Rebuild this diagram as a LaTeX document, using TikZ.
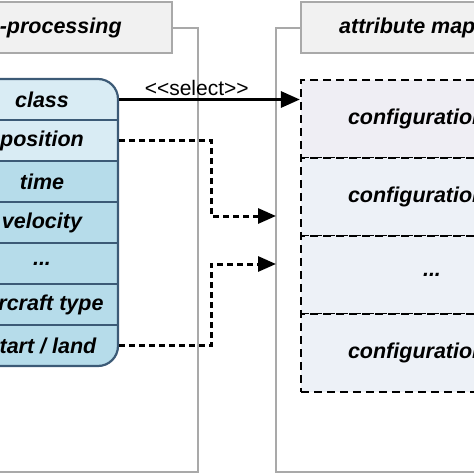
\documentclass[tikz,border=0pt]{standalone}
\usepackage{fontspec}
\setmainfont{Liberation Sans}
\usepackage{tikz}
\usetikzlibrary{calc,arrows.meta}
\usepackage{xcolor}
\definecolor{framegray}{HTML}{A9A9A9}
\definecolor{titlefill}{HTML}{F1F1F1}
\definecolor{rowlight}{HTML}{D9ECF4}
\definecolor{rowdark}{HTML}{B6DCEA}
\definecolor{rowline}{HTML}{3C5A76}
\definecolor{conffirst}{HTML}{EFEEF4}
\definecolor{confrest}{HTML}{EDF1F7}
\newcommand{\attrrow}[4]{\node[attrbox,fill=#3] (#1) at ($(O)+(42,#2)$) {#4};}
\newcommand{\confrow}[5]{\node[confbox,fill=#3,align=#4] (#1) at ($(O)+(432,#2)$) {#5};}
\tikzset{
  frame/.style={draw=framegray,line width=2.5pt},
  titlebox/.style={draw=framegray,fill=titlefill,line width=2.5pt,minimum height=51pt,
    font=\fontsize{21.5}{25}\selectfont\bfseries\itshape},
  attrbox/.style={draw=rowline,line width=1.8pt,minimum width=152pt,minimum height=41pt,
    inner sep=0pt,font=\fontsize{21.5}{25}\selectfont\bfseries\itshape},
  confbox/.style={draw=black,line width=2.2pt,dash pattern=on 8pt off 5pt,
    minimum height=78pt,text width=168pt,inner xsep=47pt,inner ysep=0pt,
    font=\fontsize{21.5}{25}\selectfont\bfseries\itshape},
  selectline/.style={draw,line width=3pt,-{Triangle[length=19pt,width=16pt]}},
  flowline/.style={draw,line width=3pt,dash pattern=on 6pt off 4pt,
    -{Triangle[length=18pt,width=15pt]}}
}
\begin{document}
\begin{tikzpicture}[x=1pt,y=-1pt]

    \coordinate (O) at (0,0);
    \useasboundingbox (O) rectangle (474,474);
    \clip (O) rectangle (474,474);

    % the two frames
    \draw[frame] ($(O)+(-100,28)$) rectangle ($(O)+(198,472)$);
    \draw[frame] ($(O)+(276,28)$) rectangle ($(O)+(620,472)$);

    \node[titlebox,minimum width=256pt] (pre-title) at ($(O)+(44,27.5)$) {pre-processing};
    \node[titlebox,minimum width=258pt] (map-title) at ($(O)+(430,27.5)$) {attribute mapping};

    % attribute table
    \begin{scope}
    \clip[rounded corners=20pt] ($(O)+(-34,79)$) rectangle ($(O)+(118,366)$);
    \attrrow{attr-class}{99.5}{rowlight}{class}
    \attrrow{attr-position}{140.5}{rowlight}{position}
    \attrrow{attr-time}{181.5}{rowdark}{time}
    \attrrow{attr-velocity}{222.5}{rowdark}{velocity}
    \attrrow{attr-more}{263.5}{rowdark}{...}
    \attrrow{attr-type}{304.5}{rowdark}{aircraft type}
    \attrrow{attr-start}{345.5}{rowdark}{start / land}
    \end{scope}
    \draw[rowline,line width=2.2pt,rounded corners=20pt] ($(O)+(-34,79)$) rectangle ($(O)+(118,366)$);

    % configurations
    \confrow{conf-1}{119}{conffirst}{left}{configuration}
    \confrow{conf-2}{197}{confrest}{left}{configuration}
    \confrow{conf-3}{275}{confrest}{center}{...}
    \confrow{conf-4}{353}{confrest}{left}{configuration}

    \coordinate (in-pos) at ($(O)+(276,216)$);
    \coordinate (in-start) at ($(O)+(276,264)$);

    \draw[selectline] (attr-class.east) -- node[pos=0.43,above=-1pt,font=\fontsize{21}{25}\selectfont] (select-label) {<\kern0pt<select>\kern0pt>} (attr-class.east -| conf-1.west);
    \draw[flowline] (attr-position.east) -| ($(in-pos)+(-65,0)$) -- (in-pos);
    \draw[flowline] (attr-start.east) -| ($(in-start)+(-65,0)$) -- (in-start);

\end{tikzpicture}
\end{document}
